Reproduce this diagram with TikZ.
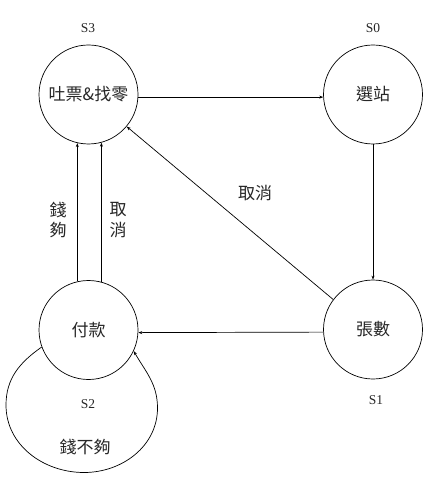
\documentclass[tikz,border=0pt]{standalone}
\usepackage{fontspec}
\setmainfont{Liberation Serif}
\newfontfamily\cjk{Noto Sans CJK TC}
\usetikzlibrary{arrows.meta}
\begin{document}
\begin{tikzpicture}[x=1pt,y=-1pt,
  state/.style={circle,draw,line width=0.7pt,minimum size=99pt,inner sep=0pt,font=\cjk\fontsize{17}{17}\selectfont,text=black!85},
  slabel/.style={font=\fontsize{13.5}{13.5}\selectfont,text=black!85,inner sep=0pt},
  clabel/.style={font=\cjk\fontsize{17}{17}\selectfont,text=black!85,inner sep=0pt},
  conn/.style={line width=0.7pt,-{Stealth[length=4pt,width=3pt]}}]
\useasboundingbox (0,0) rectangle (437,478);
\node[state] (s3) at (88.5,94.5) {吐票\&找零};
\node[state] (s0) at (373,94.5) {選站};
\node[state] (s1) at (373,329.5) {張數};
\node[state] (s2) at (88.5,330) {付款};
\node[slabel] (l3) at (88,28) {S3};
\node[slabel] (l0) at (373,28) {S0};
\node[slabel] (l1) at (376,400) {S1};
\node[slabel] (l2) at (88,404) {S2};
\draw[conn] (s3.-3) -- (s0.-177);
\draw[conn] (s0.south) -- (s1.north);
\draw[conn] (s1.183) -- (s2.-3);
\draw[conn] (s1.143) -- (s3.-40);
\draw[conn] (s2.103) -- (s3.257);
\draw[conn] (s2.75) -- (s3.285);
\coordinate (la) at (6,405);
\coordinate (lb) at (84,472.5);
\coordinate (lc) at (157.5,408);
\draw[conn] (s2.200) to[out=215,in=90] (la) to[out=-90,in=180] (lb) to[out=0,in=-90] (lc) to[out=90,in=-60] (s2.-25);
\node[clabel] (c1) at (255,193) {取消};
\node[clabel] (c2) at (58,210) {錢};
\node[clabel] (c3) at (58,230) {夠};
\node[clabel] (c4) at (118,210) {取};
\node[clabel] (c5) at (118,230) {消};
\node[clabel] (c6) at (85,447) {錢不夠};
\end{tikzpicture}
\end{document}
